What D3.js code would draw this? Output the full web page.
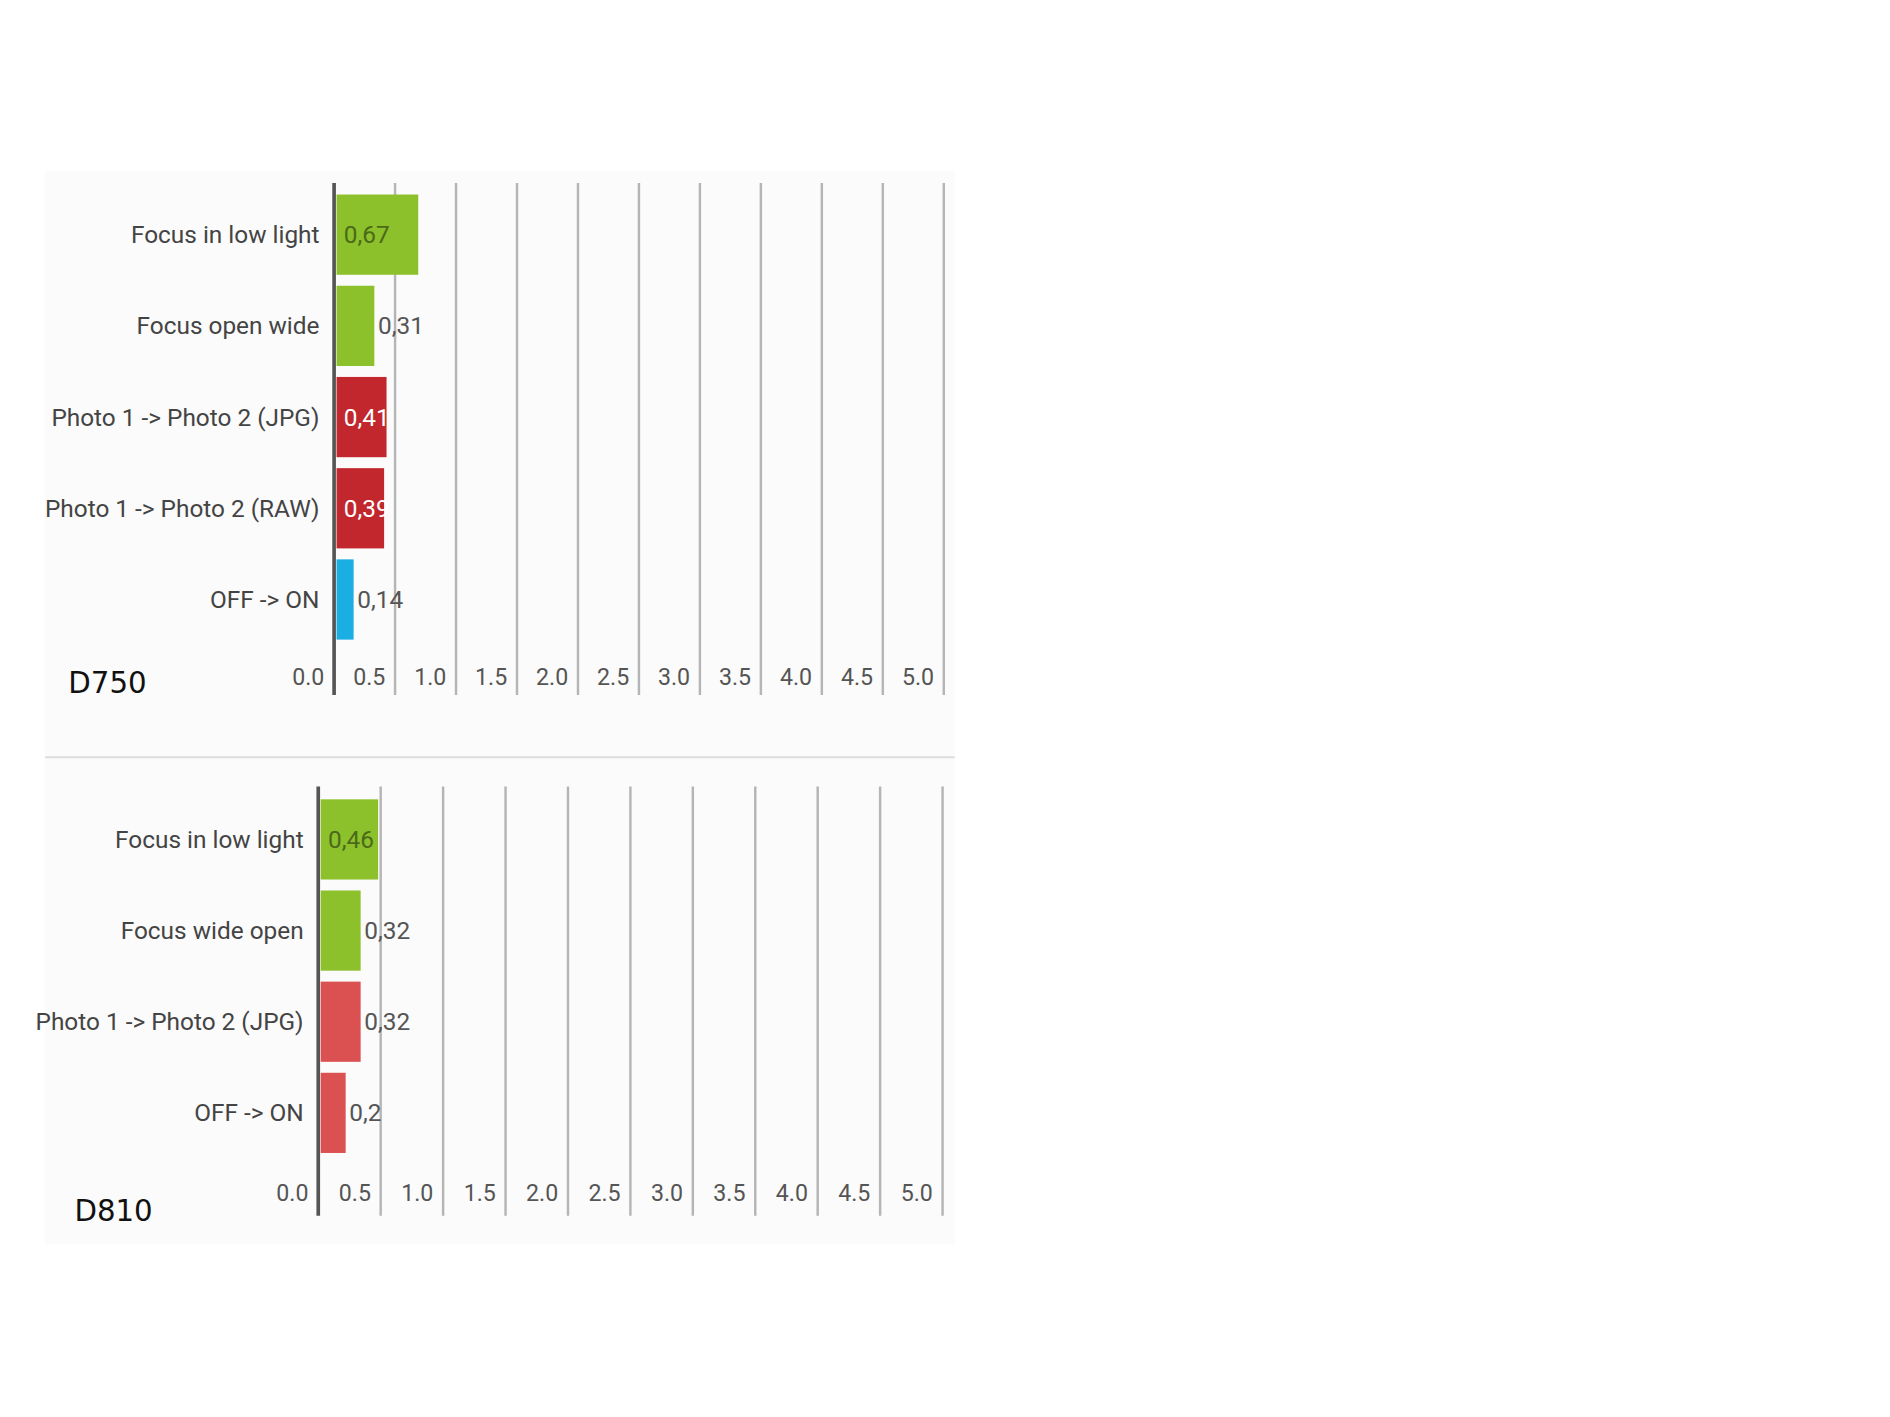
<!DOCTYPE html>
<html><head><meta charset="utf-8">
<script src="https://cdn.jsdelivr.net/npm/d3@7"></script>
<style>body{margin:0;background:#fff}</style>
</head><body>
<svg id="c" width="1890" height="1417" viewBox="0 0 1550 1162"></svg>
<script>
// data
const d750Cats = ["Focus in low light", "Focus open wide", "Photo 1 -> Photo 2 (JPG)", "Photo 1 -> Photo 2 (RAW)", "OFF -> ON"]
const d750Vals = [0.67, 0.31, 0.41, 0.39, 0.14]
const d750Labels = ["0,67", "0,31", "0,41", "0,39", "0,14"]
const d750Colors = ["#8dc12b", "#8dc12b", "#c1272d", "#c1272d", "#1aaee2"]
const d810Cats = ["Focus in low light", "Focus  wide open", "Photo 1 -> Photo 2 (JPG)", "OFF -> ON"]
const d810Vals = [0.46, 0.32, 0.32, 0.2]
const d810Labels = ["0,46", "0,32", "0,32", "0,2"]
const d810Colors = ["#8dc12b", "#8dc12b", "#db5152", "#db5152"]
const ticks = [0, 0.5, 1, 1.5, 2, 2.5, 3, 3.5, 4, 4.5, 5]
const tickLabels = ["0.0", "0.5", "1.0", "1.5", "2.0", "2.5", "3.0", "3.5", "4.0", "4.5", "5.0"]

const svg = d3.select("#c")
const font = "'Liberation Sans Narrow', 'Roboto', sans-serif"

svg.append("rect").attr("x", 37).attr("y", 140).attr("width", 746).attr("height", 880).attr("fill", "#fbfbfb")
svg.append("line").attr("x1", 37).attr("x2", 783).attr("y1", 621).attr("y2", 621).attr("stroke", "#ddd").attr("stroke-width", 1.5)

function panel(o) {
  const x = d3.scaleLinear().domain([0, 5]).range([o.x0, o.x1])
  const y = d3.scaleBand().domain(o.cats).range([o.yTop, o.yBot]).paddingInner(0.12).paddingOuter(0.06)
  const g = svg.append("g")
  g.selectAll(".grid").data(ticks.slice(1)).enter().append("line")
    .attr("x1", d => x(d)).attr("x2", d => x(d)).attr("y1", o.gTop).attr("y2", o.gBot)
    .attr("stroke", "#b5b5b5").attr("stroke-width", 2)
  g.append("line").attr("x1", x(0)).attr("x2", x(0)).attr("y1", o.gTop).attr("y2", o.gBot)
    .attr("stroke", "#555").attr("stroke-width", 3)
  g.selectAll(".tl").data(ticks).enter().append("text")
    .attr("x", d => x(d) - 8).attr("y", o.tickY).attr("text-anchor", "end")
    .attr("font-family", font).attr("font-size", 19).attr("fill", "#555")
    .text((d, i) => tickLabels[i])
  g.selectAll(".bar").data(o.vals).enter().append("rect")
    .attr("x", x(0) + 2).attr("y", (d, i) => y(o.cats[i]))
    .attr("width", d => x(d) - x(0)).attr("height", y.bandwidth())
    .attr("fill", (d, i) => o.colors[i])
  g.selectAll(".cat").data(o.cats).enter().append("text")
    .attr("x", x(0) - 12).attr("y", d => y(d) + y.bandwidth() / 2 + 7).attr("text-anchor", "end")
    .attr("font-family", font).attr("font-size", 20).attr("fill", "#444").text(d => d)
  g.selectAll(".val").data(o.vals).enter().append("text")
    .attr("x", (d, i) => o.inside[i] ? x(0) + 8 : x(d) + 5)
    .attr("y", (d, i) => y(o.cats[i]) + y.bandwidth() / 2 + 7)
    .attr("font-family", font).attr("font-size", 20)
    .attr("fill", (d, i) => o.inside[i] ? (o.colors[i] === "#8dc12b" ? "#4a6a1a" : "#fff") : "#555")
    .text((d, i) => o.labels[i])
  svg.append("text").attr("x", o.nameX).attr("y", o.nameY).attr("font-family", "'DejaVu Sans', sans-serif")
    .attr("font-size", 24).attr("fill", "#111").text(o.name)
}

panel({cats: d750Cats, vals: d750Vals, labels: d750Labels, colors: d750Colors, inside: [1, 0, 1, 1, 0],
  x0: 274, x1: 774, yTop: 155, yBot: 529, gTop: 150, gBot: 570, tickY: 562, name: "D750", nameX: 56, nameY: 568})
panel({cats: d810Cats, vals: d810Vals, labels: d810Labels, colors: d810Colors, inside: [1, 0, 0, 0],
  x0: 261, x1: 773, yTop: 651, yBot: 950, gTop: 645, gBot: 997, tickY: 985, name: "D810", nameX: 61, nameY: 1001})
</script>
</body></html>
